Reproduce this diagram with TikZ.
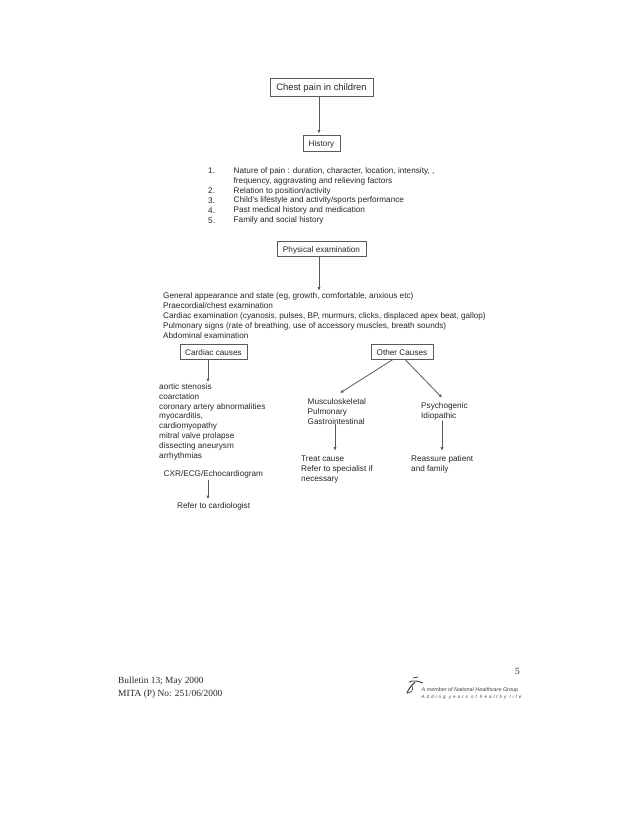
\documentclass[tikz,border=0pt]{standalone}
\usepackage{fontspec}
\setmainfont{Liberation Sans}
\newfontfamily\timesfont{Liberation Serif}
\usetikzlibrary{arrows.meta}
\definecolor{txtgray}{rgb}{0.15,0.15,0.15}
\definecolor{boxgray}{rgb}{0.35,0.35,0.35}
\definecolor{logogray}{rgb}{0.25,0.25,0.25}
\tikzset{
  boxed/.style={draw=boxgray,line width=0.8pt,inner sep=0pt,text=txtgray,text height=7.5pt,text depth=0.5pt,font=\fontsize{8.2}{10}\selectfont},
  block/.style={anchor=north west,align=left,inner sep=0pt,text=txtgray,font=\fontsize{8.2}{9.95}\selectfont},
  foot/.style={anchor=north west,align=left,inner sep=0pt,text=txtgray,font=\timesfont\fontsize{9.4}{12.5}\selectfont},
  link/.style={draw=boxgray,line width=0.8pt,-{Latex[length=3.5pt,width=3.2pt]}}
}
\begin{document}
\begin{tikzpicture}[x=1pt,y=-1pt,line cap=round,line join=round]
  \useasboundingbox (0,0) rectangle (638,826);
  % boxes
  \node[boxed,minimum width=103pt,minimum height=18pt] (chest) at (321.5,87) {\fontsize{9.4}{10}\selectfont Chest pain in children};
  \node[boxed,minimum width=37pt,minimum height=16pt] (hist) at (321.5,143) {History};
  \node[boxed,minimum width=89pt,minimum height=15pt] (phys) at (321.5,248.5) {Physical examination};
  \node[boxed,minimum width=67pt,minimum height=15pt] (cardiac) at (213.5,351.5) {Cardiac causes};
  \node[boxed,minimum width=62pt,minimum height=15pt] (other) at (402,351.5) {Other Causes};
  % history list
  \node[block] (nums) at (208,167.8) {1.\\[9.95pt]2.\\3.\\4.\\5.};
  \node[block] (hlist) at (233.5,167) {Nature of pain : duration, character, location, intensity, ,\\frequency, aggravating and relieving factors\\Relation to position/activity\\Child’s lifestyle and activity/sports performance\\Past medical history and medication\\Family and social history};
  % examination
  \node[block] (exam) at (163,292.7) {General appearance and state (eg, growth, comfortable, anxious etc)\\Praecordial/chest examination\\Cardiac examination (cyanosis, pulses, BP, murmurs, clicks, displaced apex beat, gallop)\\Pulmonary signs (rate of breathing, use of accessory muscles, breath sounds)\\Abdominal examination};
  % cardiac side
  \node[block] (clist) at (159,383) {aortic stenosis\\coarctation\\coronary artery abnormalities\\myocarditis,\\cardiomyopathy\\mitral valve prolapse\\dissecting aneurysm\\arrhythmias};
  \node[block] (cxr) at (163.5,470) {CXR/ECG/Echocardiogram};
  \node[block] (refer) at (177,502.2) {Refer to cardiologist};
  % other side
  \node[block] (musc) at (307.5,398) {Musculoskeletal\\Pulmonary\\Gastrointestinal};
  \node[block] (psych) at (421,402.7) {Psychogenic\\Idiopathic};
  \node[block] (treat) at (301,455.7) {Treat cause\\Refer to specialist if\\necessary};
  \node[block] (reass) at (411,455.7) {Reassure patient\\and family};
  % arrows
  \draw[link] ([xshift=-2.5pt]chest.south) -- ([xshift=-2.5pt,yshift=1pt]hist.north);
  \draw[link] ([xshift=-2.5pt]phys.south) -- ([xshift=-2.5pt,yshift=2pt]phys.south |- exam.north);
  \draw[link] ([xshift=-9pt]other.south) -- ([xshift=32.5pt,yshift=5pt]musc.north west);
  \draw[link] ([xshift=3pt]other.south) -- ([xshift=21pt,yshift=5pt]psych.north west);
  \draw[link] ([xshift=-5.5pt]cardiac.south) -- ([xshift=-5.5pt,yshift=1pt]cardiac.south |- clist.north);
  \draw[link] ([xshift=27.5pt]musc.south west) -- ([xshift=34pt,yshift=5pt]treat.north west);
  \draw[link] ([xshift=21pt]psych.south west) -- ([xshift=31pt,yshift=5pt]reass.north west);
  \draw[link] ([xshift=44.5pt,yshift=-2pt]cxr.south west) -- ([xshift=31pt,yshift=3pt]refer.north west);
  % footer
  \node[foot] (page) at (515,668) {5};
  \node[foot] (bull) at (118,677) {Bulletin 13; May 2000\\MITA (P) No: 251/06/2000};
  % logo
  \draw[logogray,line width=1.1pt] (415,682) .. controls (412,685) and (409,688) .. (407,693);
  \draw[logogray,line width=0.9pt] (409,682) .. controls (414,680) and (418,681) .. (423,683);
  \draw[logogray,line width=0.8pt] (413,678) -- (418,677);
  \draw[logogray,line width=0.6pt] (412,686) .. controls (414,690) and (411,693) .. (407,693);
  \node[block,text=logogray,font=\itshape\fontsize{5.4}{6}\selectfont] (nhg) at (421.5,687.2) {A member of National Healthcare Group};
  \node[block,text=logogray,font=\itshape\addfontfeature{LetterSpace=42}\fontsize{4.6}{6}\selectfont] (life) at (421.5,695) {Adding years of healthy life};
\end{tikzpicture}
\end{document}
